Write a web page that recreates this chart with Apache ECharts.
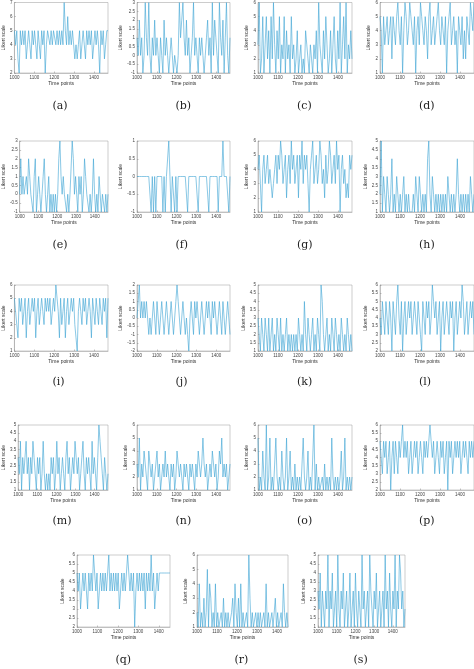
<!DOCTYPE html>
<html><head><meta charset="utf-8">
<script src="https://cdn.jsdelivr.net/npm/echarts@6/dist/echarts.min.js"></script>
<style>html,body{margin:0;padding:0;background:#fff}#c{width:474px;height:669px}</style>
</head><body><div id="c"></div>
<script>
const labels=['(a)','(b)','(c)','(d)','(e)','(f)','(g)','(h)','(i)','(j)','(k)','(l)','(m)','(n)','(o)','(p)','(q)','(r)','(s)'];
const yMin=[2,-1,1,1,-1,-1,1,1,1,-2,1,2,1,1,1,2,2,1,1];
const yMax=[7,3,6,6,3,1,6,5,6,2,5,6,5,6,6,6,6,6,5];
const yStep=[1,0.5,1,1,0.5,0.5,1,0.5,1,0.5,0.5,0.5,0.5,1,1,0.5,0.5,1,0.5];
const xEnd=[1470,1470,1470,1470,1470,1470,1470,1470,1470,1470,1470,1470,1470,1470,1470,1470,1455,1455,1465];
const sa=[5,4,5,3,2,5,4,5,4,5,3,4,5,4,3,5,4,5,4,3,5,4,3,5,4,5,2,4,5,5,4,5,4,5,5,4,5,4,5,4,5,4,7,5,4,6,4,5,4,5,4,3,4,3,4,5,3,4,5,4,3,5,4,5,4,5,3,4,5,4,5,4,2,5,4,5,3,4,5,5];
const sb=[1,0,2,0,1,-1,0,3,1,0,3,0,-1,1,0,2,0,1,0,-1,1,0,-1,2,0,1,0,-1,0,1,0,-1,0,0,-1,0,3,1,2,3,1,0,2,0,1,-1,0,1,3,0,1,0,-1,1,0,1,0,-1,0,1,2,0,1,-1,3,0,2,1,0,-1,3,1,0,2,-1,1,3,0,-1,1];
const sc=[3,6,1,2,5,1,3,5,2,4,1,5,2,6,3,1,4,2,5,1,3,2,5,1,4,2,3,1,5,2,3,1,2,4,1,2,3,1,2,1,4,3,2,1,3,2,1,3,2,4,1,6,3,2,1,4,2,5,3,1,2,4,1,3,5,2,1,4,2,6,1,3,5,2,6,1,3,2,4,2];
const sd=[5,4,1,5,3,4,5,3,4,5,2,5,4,3,5,6,4,3,5,1,4,6,5,3,4,6,5,4,3,5,1,4,5,3,6,5,4,3,5,4,2,5,6,3,4,5,3,4,5,6,4,3,5,4,3,5,1,4,5,6,3,4,5,3,4,1,5,4,3,5,2,4,2,5,4,3,6,5,4,6];
const se=[0,2,0,1,0,0,1,0,2,1,0,0,-1,1,2,-1,0,1,0,-1,0,1,2,0,-1,0,1,-1,0,-1,0,-1,0,-1,0,2,3,1,0,1,0,0,-1,0,-1,0,0,3,2,0,1,0,-1,1,0,1,-1,0,2,1,0,0,-1,0,-1,0,2,0,-1,0,-1,1,0,-1,0,0,-1,0,-1,0];
const sf=[0,0,0,0,0,0,0,0,0,0,0,0,-1,0,-1,0,-1,0,0,0,0,0,-1,0,-1,0,0,1,0,-1,0,0,-1,0,-1,0,0,0,0,0,0,0,0,-1,0,0,0,0,0,0,0,0,-1,0,0,0,0,0,0,0,0,-1,0,0,0,0,0,0,0,-1,0,0,0,1,0,0,0,0,-1,0];
const sg=[4,5,3,1,4,5,3,4,5,3,4,3,2,3,4,5,3,5,4,6,5,3,4,5,2,4,5,3,6,4,5,3,4,5,2,5,4,6,3,5,4,5,3,1,4,5,6,3,4,5,3,4,6,5,3,4,2,5,3,4,6,5,3,4,5,3,6,4,5,1,4,5,3,4,2,3,2,5,4,5];
const sh=[2,5,1,3,2,1,3,2,1,2,4,1,2,1,3,2,1,2,1,2,3,1,2,1,2,1,1,1,2,1,3,2,1,3,2,1,2,1,2,1,4,5,2,1,3,2,1,2,1,2,1,2,1,2,1,2,1,3,2,1,2,1,2,1,2,4,2,1,2,1,2,1,2,1,2,1,3,2,1,2];
const si=[5,4,3,2,5,4,5,3,4,5,2,4,5,3,4,5,4,5,2,4,5,3,4,5,4,3,5,4,5,4,5,3,4,5,4,6,5,4,2,5,3,4,5,2,4,5,3,4,5,4,5,3,2,1,4,5,4,3,5,4,5,3,4,5,4,2,5,4,3,5,4,3,5,4,3,5,4,5,2,5];
const sj=[0,1,2,0,1,0,1,0,1,0,-1,0,-1,0,1,0,-1,1,0,-1,0,1,0,-1,0,1,0,-1,0,1,0,-1,0,1,2,1,0,-1,0,1,0,-1,0,-1,-2,0,1,0,-1,1,0,1,0,-1,0,1,0,-1,0,1,0,1,0,-1,1,0,1,0,-1,0,1,0,-1,1,0,-1,0,1,0,-1];
const sk=[3,2,1,3,2,1,3,2,1,3,1,2,3,1,2,1,3,2,1,3,1,2,1,2,3,1,2,1,2,1,2,1,2,1,3,2,1,2,1,4,2,1,3,2,1,2,3,1,2,1,3,2,1,5,4,2,1,2,3,1,2,1,3,2,1,3,2,1,2,1,3,2,1,2,1,3,2,1,2,1];
const sl=[4,3,5,4,3,5,4,3,5,4,2,5,4,3,5,6,4,3,5,2,4,5,3,4,5,4,5,3,4,5,4,3,5,4,3,2,5,4,3,5,4,5,3,4,6,5,4,5,3,4,5,2,4,5,3,4,5,4,3,5,4,5,2,4,5,3,4,5,4,6,5,3,4,5,3,4,5,4,5,3];
const sm=[3,2,4,1,3,2,3,4,2,3,1,3,2,4,3,2,1,3,2,3,1,2,4,2,1,2,1,2,1,3,2,3,1,2,4,2,3,1,2,3,2,1,3,4,2,3,1,2,3,2,4,3,2,3,1,2,3,4,2,1,3,2,3,2,1,4,2,3,2,1,3,5,4,3,2,1,3,2,1,2];
const sn=[3,2,5,1,3,2,4,3,2,1,4,3,2,3,1,2,3,4,2,3,1,2,3,2,4,2,3,2,1,3,2,3,1,2,4,3,2,3,2,1,3,2,3,2,1,3,2,3,2,1,3,2,4,3,2,3,5,3,2,3,1,2,3,2,4,3,2,3,1,2,4,3,5,2,3,2,3,1,2,3];
const so=[5,1,2,1,4,2,1,6,1,2,5,1,2,1,3,5,2,1,2,1,4,2,1,2,5,1,2,4,1,2,1,3,1,2,1,2,1,1,5,2,1,2,4,1,2,1,1,6,1,3,1,2,1,1,2,1,3,1,2,1,2,1,5,2,1,2,1,2,1,2,4,1,2,5,1,2,1,2,1,2];
const sp=[5,4,3,5,4,5,3,4,5,2,4,5,3,5,4,3,5,4,5,6,4,5,4,5,3,4,5,3,4,5,4,5,3,4,5,4,3,5,4,5,4,5,6,5,4,5,3,4,5,4,3,5,4,5,3,4,5,2,5,4,5,3,4,5,4,5,4,5,3,4,5,4,5,4,3,5,4,5,4,5];
const sq=[5,4,5,3,4,5,4,5,4,3,5,4,5,4,6,5,4,5,3,4,5,4,5,4,5,4,5,6,4,5,4,5,4,5,4,5,3,4,5,4,5,4,5,6,5,4,5,4,5,2,4,5,4,5,4,5,4,5,3,5,4,5,4,6,4,5,3,4,5,4,5,5,5,5,5,5,5,5,5,5];
const sr=[2,1,4,1,2,1,3,1,2,5,1,4,3,1,2,1,4,1,2,1,1,2,1,3,1,2,1,2,1,1,2,3,1,4,2,1,3,1,4,1,2,1,1,2,1,6,3,1,2,1,1,2,1,2,1,2,1,1,2,1,4,1,2,1,1,2,1,1,3,1,2,1,1,2,1,4,2,1,2,1];
const ss=[3,2,4,1,3,2,1,3,2,5,1,3,2,4,1,2,3,1,5,2,1,3,2,4,1,2,3,1,2,4,1,2,3,1,4,2,1,3,2,1,5,2,3,1,2,3,1,5,3,2,1,3,2,4,1,2,3,1,2,3,1,5,2,3,1,4,2,1,3,2,5,1,3,2,5,4,2,3,1,2];
const allSeries=[sa,sb,sc,sd,se,sf,sg,sh,si,sj,sk,sl,sm,sn,so,sp,sq,sr,ss];

const colL=[13,137,258,380], colW=[95,93,94,94];
const rowT=[2,141,285,425], rowH=[71,71,66,65], labY=[108,247,384,523];
const grids=[],xs=[],ys=[],series=[],texts=[];
const lab={fontSize:4.5,color:'#444',fontFamily:'Liberation Sans',margin:2};
for(let k=0;k<19;k++){
  let l,t,w,h,ly;
  if(k<16){const r=Math.floor(k/4),c=k%4;l=colL[c];w=colW[c];t=rowT[r];h=rowH[r];ly=labY[r];}
  else{const c=k-16;l=[77,197,318][c];w=[93,91,87][c];t=555;h=72;ly=662;}
  grids.push({left:l,top:t,width:w,height:h,show:true,borderColor:'#999',borderWidth:0.5,containLabel:false});
  xs.push({type:'value',gridIndex:k,min:1000,max:xEnd[k],interval:100,name:'Time points',nameLocation:'middle',nameGap:8,
    nameTextStyle:{fontSize:5,color:'#333',fontFamily:'Liberation Sans'},
    axisLabel:Object.assign({showMaxLabel:false,formatter:v=>String(v)},lab),axisTick:{inside:true,length:1.5,lineStyle:{color:'#888',width:0.5}},
    axisLine:{onZero:false,lineStyle:{color:'#999',width:0.5}},splitLine:{show:false}});
  ys.push({type:'value',gridIndex:k,min:yMin[k],max:yMax[k],interval:yStep[k],name:'Likert scale',nameLocation:'middle',nameGap:8,
    nameTextStyle:{fontSize:5,color:'#333',fontFamily:'Liberation Sans'},
    axisLabel:lab,axisTick:{inside:true,length:1.5,lineStyle:{color:'#888',width:0.5}},
    axisLine:{show:true,onZero:false,lineStyle:{color:'#999',width:0.5}},splitLine:{show:false}});
  const arr=allSeries[k], n=arr.length, span=xEnd[k]-1000;
  series.push({type:'line',xAxisIndex:k,yAxisIndex:k,showSymbol:false,animation:false,
    lineStyle:{color:'#3aa3d3',width:0.6},data:arr.map((v,i)=>[1000+i*span/(n-1),v])});
  texts.push({type:'text',left:l+w/2-8,top:ly-7,style:{text:labels[k],fontSize:11,fill:'#222',fontFamily:'DejaVu Serif'}});
}
const chart=echarts.init(document.getElementById('c'));
chart.setOption({animation:false,grid:grids,xAxis:xs,yAxis:ys,series:series,graphic:texts});
</script></body></html>
